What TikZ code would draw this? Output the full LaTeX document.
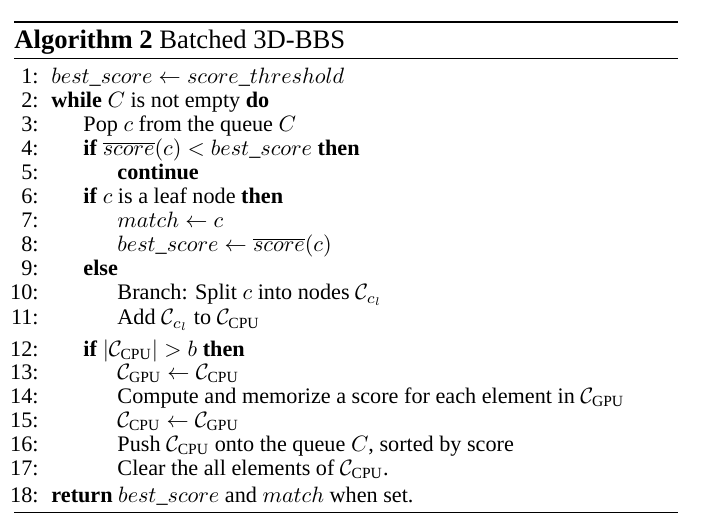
\documentclass[tikz,border=0pt]{standalone}
\usepackage{amsmath}
\usepackage{fontspec}
\setmainfont{Liberation Serif}
\newcommand{\CC}[1]{\mathcal{C}_{\text{#1}}}
\newcommand{\kw}[1]{\textbf{#1}}
\begin{document}
\begin{tikzpicture}[x=1pt,y=-1pt,
  num/.style={anchor=base east,inner sep=0pt,scale=2.22,font=\fontsize{10}{12}\selectfont},
  txt/.style={anchor=base west,inner sep=0pt,scale=2.22,font=\fontsize{10}{12}\selectfont}]
\useasboundingbox (0,0) rectangle (716,524);
\draw[line width=1.6pt] (14,22) coordinate (tl) -- (678,22) coordinate (tr);
\draw[line width=0.8pt] (14,58) coordinate (ml) -- (678,58) coordinate (mr);
\draw[line width=0.8pt] (14,512) coordinate (bl) -- (678,512) coordinate (br);
\node[txt,font=\fontsize{12}{14}\selectfont] (title) at (14,49) {\kw{Algorithm 2} Batched 3D-BBS};
\def\L#1#2#3#4{\node[num] (n#1) at (39,#2) {#1:}; \node[txt] (t#1) at (#3,#2) {#4};}
\L{1}{84}{51}{$best\_score \leftarrow score\_threshold$}
\L{2}{108}{51}{\kw{while} $C$ is not empty \kw{do}}
\L{3}{132}{83}{Pop $c$ from the queue $C$}
\L{4}{156}{83}{\kw{if} $\overline{score}(c) < best\_score$ \kw{then}}
\L{5}{180}{117}{\kw{continue}}
\L{6}{204}{83}{\kw{if} $c$ is a leaf node \kw{then}}
\L{7}{228}{117}{$match \leftarrow c$}
\L{8}{252}{117}{$best\_score \leftarrow \overline{score}(c)$}
\L{9}{276}{83}{\kw{else}}
\L{10}{300}{117}{Branch: Split $c$ into nodes $\mathcal{C}_{c_l}$}
\L{11}{325}{117}{Add $\mathcal{C}_{c_l}$ to $\CC{CPU}$}
\L{12}{356}{83}{\kw{if} $|\CC{CPU}| > b$ \kw{then}}
\L{13}{379}{117}{$\CC{GPU} \leftarrow \CC{CPU}$}
\L{14}{403}{117}{Compute and memorize a score for each element in $\CC{GPU}$}
\L{15}{427}{117}{$\CC{CPU} \leftarrow \CC{GPU}$}
\L{16}{451}{117}{Push $\CC{CPU}$ onto the queue $C$, sorted by score}
\L{17}{475}{117}{Clear the all elements of $\CC{CPU}$.}
\L{18}{502}{51}{\kw{return} $best\_score$ and $match$ when set.}
\end{tikzpicture}
\end{document}
